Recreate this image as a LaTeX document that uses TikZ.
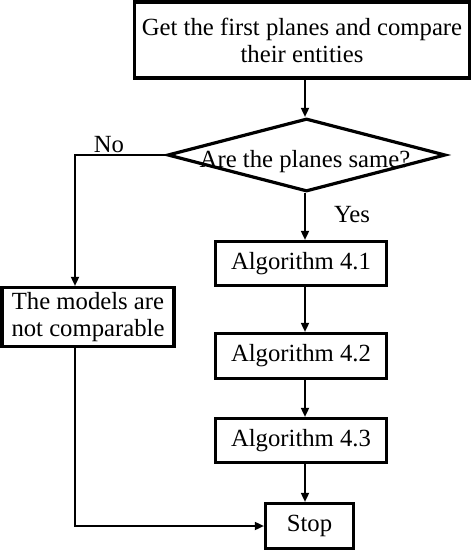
\documentclass[tikz,border=0pt]{standalone}
\usepackage{fontspec}
\setmainfont{Liberation Serif}
\usetikzlibrary{arrows.meta,shapes.geometric}
\begin{document}
\begin{tikzpicture}[x=1pt,y=-1pt,
  every node/.style={font=\fontsize{24.7}{27}\selectfont, text=black},
  box/.style={draw, line width=3.2pt, inner sep=0pt, align=center},
  dec/.style={draw, diamond, line width=3.2pt, inner sep=0pt},
  conn/.style={line width=1.7pt, -{Triangle[length=9pt,width=8pt]}},
  lbl/.style={inner sep=0pt}]
\useasboundingbox (0,0) rectangle (474,551);
\coordinate (spine) at (305,0);
\coordinate (nx) at (75,0);
\node[box, minimum width=335pt, minimum height=76pt] (top) at (302,40) {Get the first planes and compare\\their entities};
\node[dec, minimum width=278pt, minimum height=73pt] (dia) at (306.5,155) {};
\node[lbl] (diat) at (305,162) {Are the planes same?};
\node[box, minimum width=171pt, minimum height=44pt] (a1) at (301,263.5) {Algorithm 4.1};
\node[box, minimum width=171pt, minimum height=45pt] (a2) at (301,356) {Algorithm 4.2};
\node[box, minimum width=171pt, minimum height=44pt] (a3) at (301,440.5) {Algorithm 4.3};
\node[box, minimum width=88pt, minimum height=45pt] (stop) at (309.5,526) {Stop};
\node[box, minimum width=172pt, minimum height=59pt] (left) at (88,317) {The models are\\not comparable};
\node[lbl] (no) at (109,145) {No};
\node[lbl] (yes) at (352,215) {Yes};
\coordinate (turn) at (75,155);
\draw[conn] (spine |- top.south) -- (spine |- dia.north);
\draw[conn] (spine |- dia.south) -- (spine |- a1.north);
\draw[conn] (spine |- a1.south) -- (spine |- a2.north);
\draw[conn] (spine |- a2.south) -- (spine |- a3.north);
\draw[conn] (spine |- a3.south) -- (spine |- stop.north);
\draw[conn] (dia.west) -- (turn) -- (nx |- left.north);
\draw[conn] (nx |- left.south) |- (stop.west);
\end{tikzpicture}
\end{document}
